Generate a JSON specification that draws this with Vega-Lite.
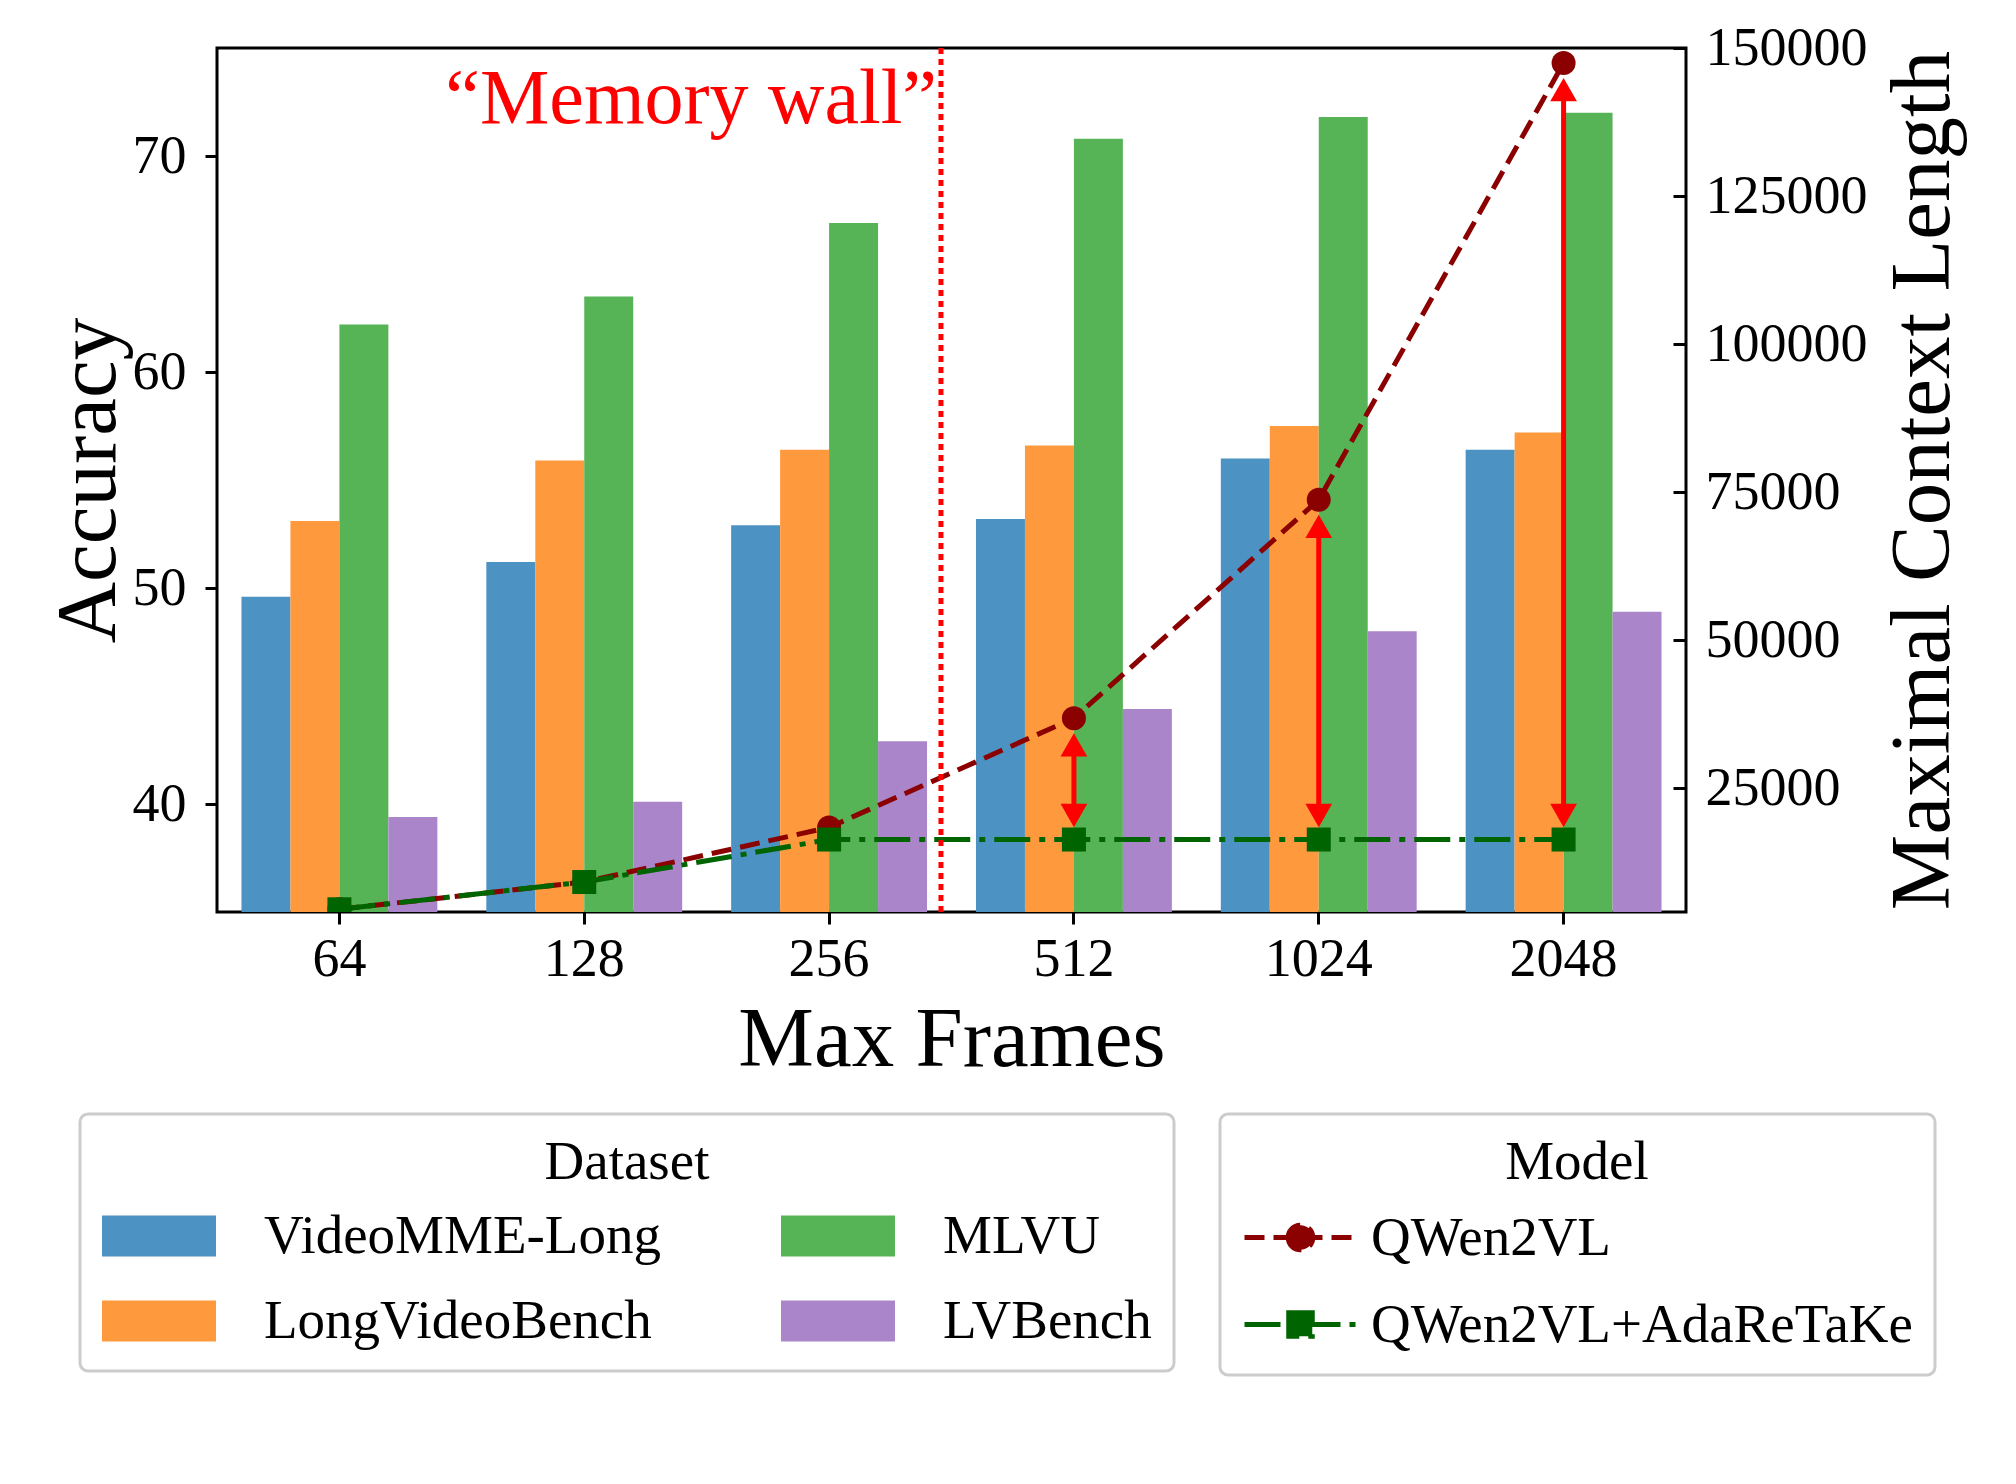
{
  "$schema": "https://vega.github.io/schema/vega-lite/v6.json",
  "width": 1469,
  "height": 864,
  "autosize": {"type": "none"},
  "padding": {"left": 217, "top": 48, "right": 330, "bottom": 572},
  "background": "#ffffff",
  "config": {
    "font": "Liberation Serif",
    "view": {"stroke": "#000000", "strokeWidth": 3},
    "axis": {
      "labelFont": "Liberation Serif", "titleFont": "Liberation Serif",
      "labelFontSize": 54, "titleFontSize": 85, "titleFontWeight": "normal",
      "labelColor": "#000000", "titleColor": "#000000", "tickColor": "#000000",
      "tickWidth": 3, "tickSize": 12, "domain": false, "grid": false
    },
    "legend": {
      "labelFont": "Liberation Serif", "titleFont": "Liberation Serif",
      "labelFontSize": 55, "titleFontSize": 55, "titleFontWeight": "normal",
      "labelColor": "#000000", "titleColor": "#000000", "labelLimit": 1000
    }
  },
  "datasets": {
    "acc": [
      {"frames": "64", "dataset": "VideoMME-Long", "accuracy": 49.6},
      {"frames": "128", "dataset": "VideoMME-Long", "accuracy": 51.2},
      {"frames": "256", "dataset": "VideoMME-Long", "accuracy": 52.9},
      {"frames": "512", "dataset": "VideoMME-Long", "accuracy": 53.2},
      {"frames": "1024", "dataset": "VideoMME-Long", "accuracy": 56.0},
      {"frames": "2048", "dataset": "VideoMME-Long", "accuracy": 56.4},
      {"frames": "64", "dataset": "LongVideoBench", "accuracy": 53.1},
      {"frames": "128", "dataset": "LongVideoBench", "accuracy": 55.9},
      {"frames": "256", "dataset": "LongVideoBench", "accuracy": 56.4},
      {"frames": "512", "dataset": "LongVideoBench", "accuracy": 56.6},
      {"frames": "1024", "dataset": "LongVideoBench", "accuracy": 57.5},
      {"frames": "2048", "dataset": "LongVideoBench", "accuracy": 57.2},
      {"frames": "64", "dataset": "MLVU", "accuracy": 62.2},
      {"frames": "128", "dataset": "MLVU", "accuracy": 63.5},
      {"frames": "256", "dataset": "MLVU", "accuracy": 66.9},
      {"frames": "512", "dataset": "MLVU", "accuracy": 70.8},
      {"frames": "1024", "dataset": "MLVU", "accuracy": 71.8},
      {"frames": "2048", "dataset": "MLVU", "accuracy": 72.0},
      {"frames": "64", "dataset": "LVBench", "accuracy": 39.4},
      {"frames": "128", "dataset": "LVBench", "accuracy": 40.1},
      {"frames": "256", "dataset": "LVBench", "accuracy": 42.9},
      {"frames": "512", "dataset": "LVBench", "accuracy": 44.4},
      {"frames": "1024", "dataset": "LVBench", "accuracy": 48.0},
      {"frames": "2048", "dataset": "LVBench", "accuracy": 48.9}
    ],
    "ctx": [
      {"frames": "64", "model": "QWen2VL", "context": 4608},
      {"frames": "128", "model": "QWen2VL", "context": 9216},
      {"frames": "256", "model": "QWen2VL", "context": 18432},
      {"frames": "512", "model": "QWen2VL", "context": 36864},
      {"frames": "1024", "model": "QWen2VL", "context": 73728},
      {"frames": "2048", "model": "QWen2VL", "context": 147456},
      {"frames": "64", "model": "QWen2VL+AdaReTaKe", "context": 4608},
      {"frames": "128", "model": "QWen2VL+AdaReTaKe", "context": 9216},
      {"frames": "256", "model": "QWen2VL+AdaReTaKe", "context": 16384},
      {"frames": "512", "model": "QWen2VL+AdaReTaKe", "context": 16384},
      {"frames": "1024", "model": "QWen2VL+AdaReTaKe", "context": 16384},
      {"frames": "2048", "model": "QWen2VL+AdaReTaKe", "context": 16384}
    ],
    "gap": [
      {"frames": "512", "lo": 16384, "hi": 36864},
      {"frames": "1024", "lo": 16384, "hi": 73728},
      {"frames": "2048", "lo": 16384, "hi": 147456}
    ]
  },
  "layer": [
    {
      "layer": [
        {
          "data": {"name": "acc"},
          "mark": {"type": "bar", "clip": true},
          "encoding": {
            "x": {
              "field": "frames", "type": "nominal",
              "sort": ["64", "128", "256", "512", "1024", "2048"],
              "scale": {"type": "band", "domain": ["64", "128", "256", "512", "1024", "2048"], "paddingInner": 0.2, "paddingOuter": 0.1},
              "title": "Max Frames",
              "axis": {"labelAngle": 0, "labelPadding": 8, "titlePadding": 12}
            },
            "xOffset": {
              "field": "dataset", "type": "nominal",
              "scale": {"domain": ["VideoMME-Long", "LongVideoBench", "MLVU", "LVBench"], "paddingInner": 0, "paddingOuter": 0}
            },
            "y": {
              "field": "accuracy", "type": "quantitative",
              "scale": {"domain": [35, 75], "nice": false, "zero": false},
              "title": "Accuracy",
              "axis": {"values": [40, 50, 60, 70], "labelPadding": 19, "titlePadding": 0}
            },
            "color": {
              "field": "dataset", "type": "nominal",
              "scale": {"domain": ["VideoMME-Long", "LongVideoBench", "MLVU", "LVBench"], "range": ["#4c92c3", "#ff993e", "#56b356", "#aa85ca"]},
              "legend": {
                "orient": "none", "legendX": -137, "legendY": 1066,
                "title": "Dataset", "titleAnchor": "middle", "columns": 2,
                "padding": 22, "titlePadding": -12, "rowPadding": -35.5, "columnPadding": 120,
                "labelOffset": 48,
                "symbolType": "M-1,-0.36H1V0.36H-1Z", "symbolSize": 12996, "symbolStrokeWidth": 0,
                "strokeColor": "#cccccc", "fillColor": "#ffffff", "cornerRadius": 8,
                "encode": {"legend": {"update": {"strokeWidth": {"value": 3}}}}
              }
            }
          }
        },
        {
          "data": {"name": "ctx"},
          "layer": [
            {
              "mark": {"type": "line", "strokeWidth": 5, "clip": true},
              "encoding": {
                "x": {
                  "field": "frames", "type": "nominal",
                  "scale": {"type": "band", "domain": ["64", "128", "256", "512", "1024", "2048"], "paddingInner": 0.2, "paddingOuter": 0.1},
                  "title": "Max Frames"
                },
                "y": {
                  "field": "context", "type": "quantitative",
                  "scale": {"domain": [4150, 150000], "nice": false, "zero": false},
                  "title": "Maximal Context Length",
                  "axis": {
                    "orient": "right", "values": [25000, 50000, 75000, 100000, 125000, 150000], "format": "d",
                    "tickSize": -13, "labelPadding": 32, "titleAngle": -90, "titleBaseline": "top", "titlePadding": 14
                  }
                },
                "stroke": {
                  "field": "model", "type": "nominal",
                  "scale": {"domain": ["QWen2VL", "QWen2VL+AdaReTaKe"], "range": ["#8b0000", "#006400"]},
                  "legend": {
                    "orient": "none", "legendX": 1003, "legendY": 1066,
                    "title": "Model", "titleAnchor": "middle",
                    "padding": 22, "titlePadding": -12, "rowPadding": -35.5,
                    "labelOffset": 12, "symbolSize": 12544, "symbolStrokeWidth": 5,
                    "symbolType": "M-1,0H1",
                    "strokeColor": "#cccccc", "fillColor": "#ffffff", "cornerRadius": 8,
                    "encode": {
                      "legend": {"update": {"strokeWidth": {"value": 3}}},
                      "symbols": {"update": {
                        "shape": {"signal": "datum.value === 'QWen2VL' ? 'M-1,0H1M-0.22,0A0.22,0.22 0 1,0 0.22,0A0.22,0.22 0 1,0 -0.22,0Z' : 'M-1,0H1M-0.21,-0.21H0.21V0.21H-0.21Z'"},
                        "fill": {"signal": "datum.value === 'QWen2VL' ? '#8b0000' : '#006400'"},
                        "strokeDash": {"signal": "datum.value === 'QWen2VL' ? [20,9] : [36,9,6,9]"},
                        "size": {"value": 12544},
                        "strokeWidth": {"value": 5}
                      }}
                    }
                  }
                },
                "strokeDash": {
                  "field": "model", "type": "nominal",
                  "scale": {"domain": ["QWen2VL", "QWen2VL+AdaReTaKe"], "range": [[20, 9], [36, 9, 6, 9]]},
                  "legend": null
                }
              }
            },
            {
              "data": {"name": "gap"},
              "mark": {"type": "rule", "color": "#ff0000", "strokeWidth": 5, "yOffset": 30, "y2Offset": -28},
              "encoding": {
                "x": {"field": "frames", "type": "nominal", "scale": {"type": "band", "domain": ["64", "128", "256", "512", "1024", "2048"], "paddingInner": 0.2, "paddingOuter": 0.1}, "title": "Max Frames"},
                "y": {"field": "hi", "type": "quantitative", "title": "Maximal Context Length"},
                "y2": {"field": "lo"}
              }
            },
            {
              "data": {"name": "gap"},
              "mark": {"type": "point", "filled": true, "color": "#ff0000", "opacity": 1, "shape": "M0,-0.873L1,0.873L-1,0.873Z", "size": 713, "yOffset": 26.6},
              "encoding": {
                "x": {"field": "frames", "type": "nominal", "scale": {"type": "band", "domain": ["64", "128", "256", "512", "1024", "2048"], "paddingInner": 0.2, "paddingOuter": 0.1}, "title": "Max Frames"},
                "y": {"field": "hi", "type": "quantitative", "title": "Maximal Context Length"}
              }
            },
            {
              "data": {"name": "gap"},
              "mark": {"type": "point", "filled": true, "color": "#ff0000", "opacity": 1, "shape": "M0,0.873L1,-0.873L-1,-0.873Z", "size": 713, "yOffset": -24},
              "encoding": {
                "x": {"field": "frames", "type": "nominal", "scale": {"type": "band", "domain": ["64", "128", "256", "512", "1024", "2048"], "paddingInner": 0.2, "paddingOuter": 0.1}, "title": "Max Frames"},
                "y": {"field": "lo", "type": "quantitative", "title": "Maximal Context Length"}
              }
            },
            {
              "transform": [{"filter": "datum.model === 'QWen2VL'"}],
              "mark": {"type": "point", "filled": true, "opacity": 1, "size": 576, "clip": true, "shape": "circle", "color": "#8b0000"},
              "encoding": {
                "x": {"field": "frames", "type": "nominal", "scale": {"type": "band", "domain": ["64", "128", "256", "512", "1024", "2048"], "paddingInner": 0.2, "paddingOuter": 0.1}, "title": "Max Frames"},
                "y": {"field": "context", "type": "quantitative", "title": "Maximal Context Length"}
              }
            },
            {
              "transform": [{"filter": "datum.model === 'QWen2VL+AdaReTaKe'"}],
              "mark": {"type": "point", "filled": true, "opacity": 1, "size": 576, "clip": true, "shape": "square", "color": "#006400"},
              "encoding": {
                "x": {"field": "frames", "type": "nominal", "scale": {"type": "band", "domain": ["64", "128", "256", "512", "1024", "2048"], "paddingInner": 0.2, "paddingOuter": 0.1}, "title": "Max Frames"},
                "y": {"field": "context", "type": "quantitative", "title": "Maximal Context Length"}
              }
            }
          ]
        }
      ],
      "resolve": {"scale": {"y": "independent"}}
    },
    {
      "data": {"values": [{"note": "“Memory wall”"}]},
      "layer": [
        {
          "mark": {"type": "rule", "color": "#ff0000", "strokeWidth": 5, "strokeDash": [6, 5]},
          "encoding": {
            "x": {"datum": 2.457, "type": "quantitative", "scale": {"domain": [-0.5, 5.5], "nice": false, "zero": false}, "axis": null}
          }
        },
        {
          "mark": {"type": "text", "color": "#ff0000", "font": "Liberation Serif", "fontSize": 78, "align": "right", "baseline": "alphabetic", "dx": -4},
          "encoding": {
            "x": {"datum": 2.457, "type": "quantitative", "scale": {"domain": [-0.5, 5.5], "nice": false, "zero": false}, "axis": null},
            "y": {"datum": 71.53, "type": "quantitative", "scale": {"domain": [35, 75], "nice": false, "zero": false}, "axis": null},
            "text": {"field": "note"}
          }
        }
      ]
    }
  ],
  "resolve": {"scale": {"x": "independent", "y": "independent"}}
}
